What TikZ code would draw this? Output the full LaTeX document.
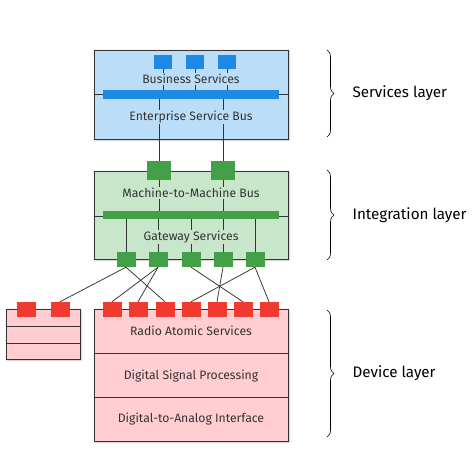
\documentclass[tikz,border=0pt]{standalone}
\usepackage{fontspec}
\setmainfont{Fira Sans}
\usetikzlibrary{decorations.pathreplacing,shadows.blur}
\definecolor{bluefill}{HTML}{BBDDF7}
\definecolor{bluesq}{HTML}{1E88E5}
\definecolor{greenfill}{HTML}{C8E6C9}
\definecolor{greensq}{HTML}{43A047}
\definecolor{redfill}{HTML}{FFCDD2}
\definecolor{redsq}{HTML}{F0392F}
\definecolor{edge}{HTML}{333333}
\definecolor{txt}{HTML}{333333}
\begin{document}
\begin{tikzpicture}[x=1pt,y=-1pt,
  box/.style={draw=edge, line width=0.9pt, inner sep=0pt, blur shadow={shadow blur steps=6, shadow xshift=1pt, shadow yshift=-1pt, shadow opacity=25}},
  sq/.style={inner sep=0pt, minimum width=19pt, minimum height=15pt},
  lbl/.style={font=\fontsize{12.2}{14}\selectfont, text=txt, inner sep=1pt},
  wire/.style={draw=edge, line width=0.75pt},
  layer/.style={font=\fontsize{15.2}{18}\selectfont, text=black, anchor=west},
  brc/.style={decorate, decoration={brace, amplitude=7pt}, line width=0.6pt}]
\useasboundingbox (0,0) rectangle (474,449);
% ---------- Services layer ----------
\node[box, fill=bluefill, minimum width=194pt, minimum height=89pt] (blue) at (191,94.5) {};
\draw[wire] (blue.west |- 0,94) -- (blue.east |- 0,94);
\node[sq, fill=bluesq, minimum width=18pt, minimum height=14pt] (b1) at (163,62) {};
\node[sq, fill=bluesq, minimum width=18pt, minimum height=14pt] (b2) at (195,62) {};
\node[sq, fill=bluesq, minimum width=18pt, minimum height=14pt] (b3) at (227,62) {};
\node[inner sep=0pt, fill=bluesq, minimum width=176pt, minimum height=9pt] (esb) at (191,94.5) {};
\foreach \s in {b1,b2,b3} \draw[wire] (\s.south) -- (\s.south |- esb.north);
% ---------- Integration layer ----------
\node[box, fill=greenfill, minimum width=194pt, minimum height=88pt] (green) at (191,215) {};
\draw[wire] (green.west |- 0,216) -- (green.east |- 0,216);
\node[inner sep=0pt, fill=greensq, minimum width=176pt, minimum height=8pt] (m2m) at (191,215) {};
\node[sq, fill=greensq, minimum width=24pt, minimum height=19pt] (t1) at (159,170.5) {};
\node[sq, fill=greensq, minimum width=24pt, minimum height=19pt] (t2) at (223,170.5) {};
\foreach \x/\n in {126/g1,158/g2,191/g3,223/g4,255/g5}
  \node[sq, fill=greensq] (\n) at (\x,259.5) {};
\draw[wire] (esb.south -| t1.north) -- (t1.north);
\draw[wire] (esb.south -| t2.north) -- (t2.north);
\foreach \s in {t1,t2} \draw[wire] (\s.south) -- (\s.south |- m2m.north);
\foreach \s in {g1,g2,g3,g4,g5} \draw[wire] (\s.north |- m2m.south) -- (\s.north);
% ---------- Device layer ----------
\node[box, fill=redfill, minimum width=74pt, minimum height=50pt] (small) at (43,334) {};
\draw[wire] (small.west |- 0,326) -- (small.east |- 0,326);
\draw[wire] (small.west |- 0,343) -- (small.east |- 0,343);
\node[box, fill=redfill, minimum width=194pt, minimum height=132pt] (red) at (191,375) {};
\draw[wire] (red.west |- 0,353) -- (red.east |- 0,353);
\draw[wire] (red.west |- 0,397) -- (red.east |- 0,397);
\node[sq, fill=redsq] (s1) at (26,309.5) {};
\node[sq, fill=redsq] (s2) at (60,309.5) {};
\foreach \x/\n in {112/r1,138/r2,165/r3,191/r4,217/r5,243/r6,269/r7}
  \node[sq, fill=redsq] (\n) at (\x,309.5) {};
% connectors
\draw[wire] (g1.south) -- (s2.north);
\draw[wire] (g1.south) -- (r3.north);
\draw[wire] (g2.south) -- (r1.north);
\draw[wire] (g2.south) -- (r2.north);
\draw[wire] (g3.south) -- (r6.north);
\draw[wire] (g4.south) -- (r5.north);
\draw[wire] (g5.south) -- (r4.north);
\draw[wire] (g5.south) -- (r7.north);
% ---------- labels ----------
\node[lbl, fill=bluefill] (bs) at (191,79) {Business Services};
\node[lbl, fill=bluefill] (esbt) at (191,117) {Enterprise Service Bus};
\node[lbl, fill=greenfill] (m2mt) at (191,193) {Machine-to-Machine Bus};
\node[lbl, fill=greenfill] (gw) at (191,237) {Gateway Services};
\node[lbl] (ras) at (191,331) {Radio Atomic Services};
\node[lbl] (dsp) at (191,376) {Digital Signal Processing};
\node[lbl] (dai) at (191,419) {Digital-to-Analog Interface};
% ---------- braces ----------
\coordinate (sA) at (327,50);  \coordinate (sB) at (327,137);
\coordinate (iA) at (327,170); \coordinate (iB) at (327,260);
\coordinate (dA) at (327,310); \coordinate (dB) at (327,437);
\draw[brc] (sA) -- (sB);
\draw[brc] (iA) -- (iB);
\draw[brc] (dA) -- (dB);
\node[layer] (sl) at (349,93.5) {Services layer};
\node[layer] (il) at (349,215) {Integration layer};
\node[layer] (dl) at (349,373.5) {Device layer};
\end{tikzpicture}
\end{document}
